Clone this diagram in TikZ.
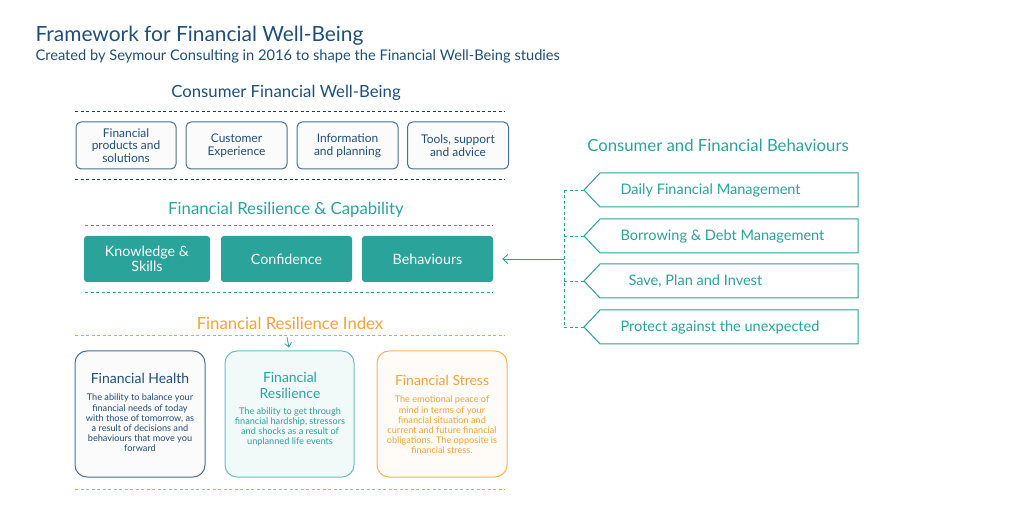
\documentclass[tikz,border=0pt]{standalone}
\usepackage{fontspec}
\setmainfont{Lato}
\usetikzlibrary{arrows.meta}
\definecolor{navy}{HTML}{1F4E79}
\definecolor{teal2}{HTML}{2AA39B}
\definecolor{orng}{HTML}{F5A03A}
\definecolor{navyb}{HTML}{4A6F93}
\begin{document}
\begin{tikzpicture}[x=1bp,y=-1bp,
 dl/.style={dash pattern=on 3bp off 2.5bp,line width=0.8bp},
 wb/.style={draw=navyb,rounded corners=5bp,line width=1bp,fill=navy!2,align=center,text=navy,font=\fontsize{12}{12.5}\selectfont},
 tb/.style={fill=teal2,rounded corners=3bp,text=white,align=center,font=\fontsize{14.3}{15}\selectfont},
 ib/.style={rounded corners=12bp,line width=1bp,align=center},
 beh/.style={draw=teal2,line width=1bp,fill=white},
 bt/.style={text=teal2,font=\fontsize{14.6}{16}\selectfont},
 dsc/.style={align=center,font=\fontsize{9.2}{10.2}\selectfont},
 hd/.style={font=\fontsize{16.8}{18}\selectfont}]
\useasboundingbox (0,0) rectangle (1024,526);
\node[anchor=west,text=navy,font=\fontsize{21}{22}\selectfont] (t) at (32,36) {Framework for Financial Well-Being};
\node[anchor=west,text=navy,font=\fontsize{14.7}{15}\selectfont] (st) at (32,56) {Created by Seymour Consulting in 2016 to shape the Financial Well-Being studies};
% section 1
\node[text=navy,hd] (h1) at (286,93) {Consumer Financial Well-Being};
\draw[dl,navy!80!black] (75,111) -- (505,111);
\draw[dl,navy!80!black] (75,179) -- (505,179);
\node[wb,minimum width=100bp,minimum height=47bp] (a1) at (126,145.5) {Financial\\products and\\solutions};
\node[wb,minimum width=101bp,minimum height=47bp] (a2) at (236.5,145.5) {Customer\\Experience};
\node[wb,minimum width=101bp,minimum height=47bp] (a3) at (347.5,145.5) {Information\\and planning};
\node[wb,minimum width=101bp,minimum height=47bp] (a4) at (458,145.5) {Tools, support\\and advice};
% section 2
\node[text=teal2,hd] (h2) at (286,210) {Financial Resilience \& Capability};
\draw[dl,teal2] (85,225) -- (493,225);
\draw[dl,teal2] (85,292) -- (493,292);
\node[tb,minimum width=126bp,minimum height=46bp] (b1) at (147,259) {Knowledge \&\\Skills};
\node[tb,minimum width=131bp,minimum height=46bp] (b2) at (286.5,259) {Confidence};
\node[tb,minimum width=131bp,minimum height=46bp] (b3) at (427.5,259) {Behaviours};
% section 3
\node[text=orng,hd] (h3) at (290,323) {Financial Resilience Index};
\draw[dl,orng] (75,335) -- (505,335);
\draw[dl,orng] (75,489) -- (505,489);
\coordinate (ar0) at (287,337);
\node[ib,draw=navyb,fill=navy!2,minimum width=130bp,minimum height=126bp] (c1) at (140,414) {};
\node[ib,draw=teal2!70,fill=teal2!6,minimum width=129bp,minimum height=126bp] (c2) at (289.5,414) {};
\node[ib,draw=orng!80,fill=orng!4,minimum width=130bp,minimum height=126bp] (c3) at (442,414) {};
\draw[-{Straight Barb[length=4bp,width=7bp]},teal2,line width=0.8bp,shorten >=3bp] (ar0) -- (c2.north);
\node[text=navy,font=\fontsize{14}{15}\selectfont] (c1t) at (140,378) {Financial Health};
\node[text=navy,dsc] (c1d) at (140,423) {The ability to balance your\\financial needs of today\\with those of tomorrow, as\\a result of decisions and\\behaviours that move you\\forward};
\node[text=teal2,align=center,font=\fontsize{14}{16}\selectfont] (c2t) at (290,385) {Financial\\Resilience};
\node[text=teal2,dsc] (c2d) at (290,427) {The ability to get through\\financial hardship, stressors\\and shocks as a result of\\unplanned life events};
\node[text=orng,font=\fontsize{14}{15}\selectfont] (c3t) at (442,380) {Financial Stress};
\node[text=orng,dsc] (c3d) at (442,425) {The emotional peace of\\mind in terms of your\\financial situation and\\current and future financial\\obligations. The opposite is\\financial stress.};
% right
\node[text=teal2,hd] (h4) at (718,145) {Consumer and Financial Behaviours};
\foreach \i/\y/\t/\dx in {1/190/Daily Financial Management/0,2/236/Borrowing \& Debt Management/0,3/281/{Save, Plan and Invest}/8,4/327/Protect against the unexpected/0}{
  \draw[beh] (584,\y) -- (600,\y-17) -- (858,\y-17) -- (858,\y+17) -- (600,\y+17) -- cycle;
  \coordinate (tip\i) at (584,\y);
  \node[bt,anchor=west] (r\i) at (617+\dx,\y) {\t};
  \coordinate (v\i) at (564,\y);
  \draw[dl,teal2,line width=0.7bp] (v\i) -- (tip\i);
}
\draw[dl,teal2,line width=0.7bp] (v1) -- (v4);
\coordinate (vm) at (564,259);
\draw[-{Straight Barb[length=5bp,width=9bp]},teal2,line width=0.9bp,shorten >=9bp] (vm) -- (b3.east);
\end{tikzpicture}
\end{document}
